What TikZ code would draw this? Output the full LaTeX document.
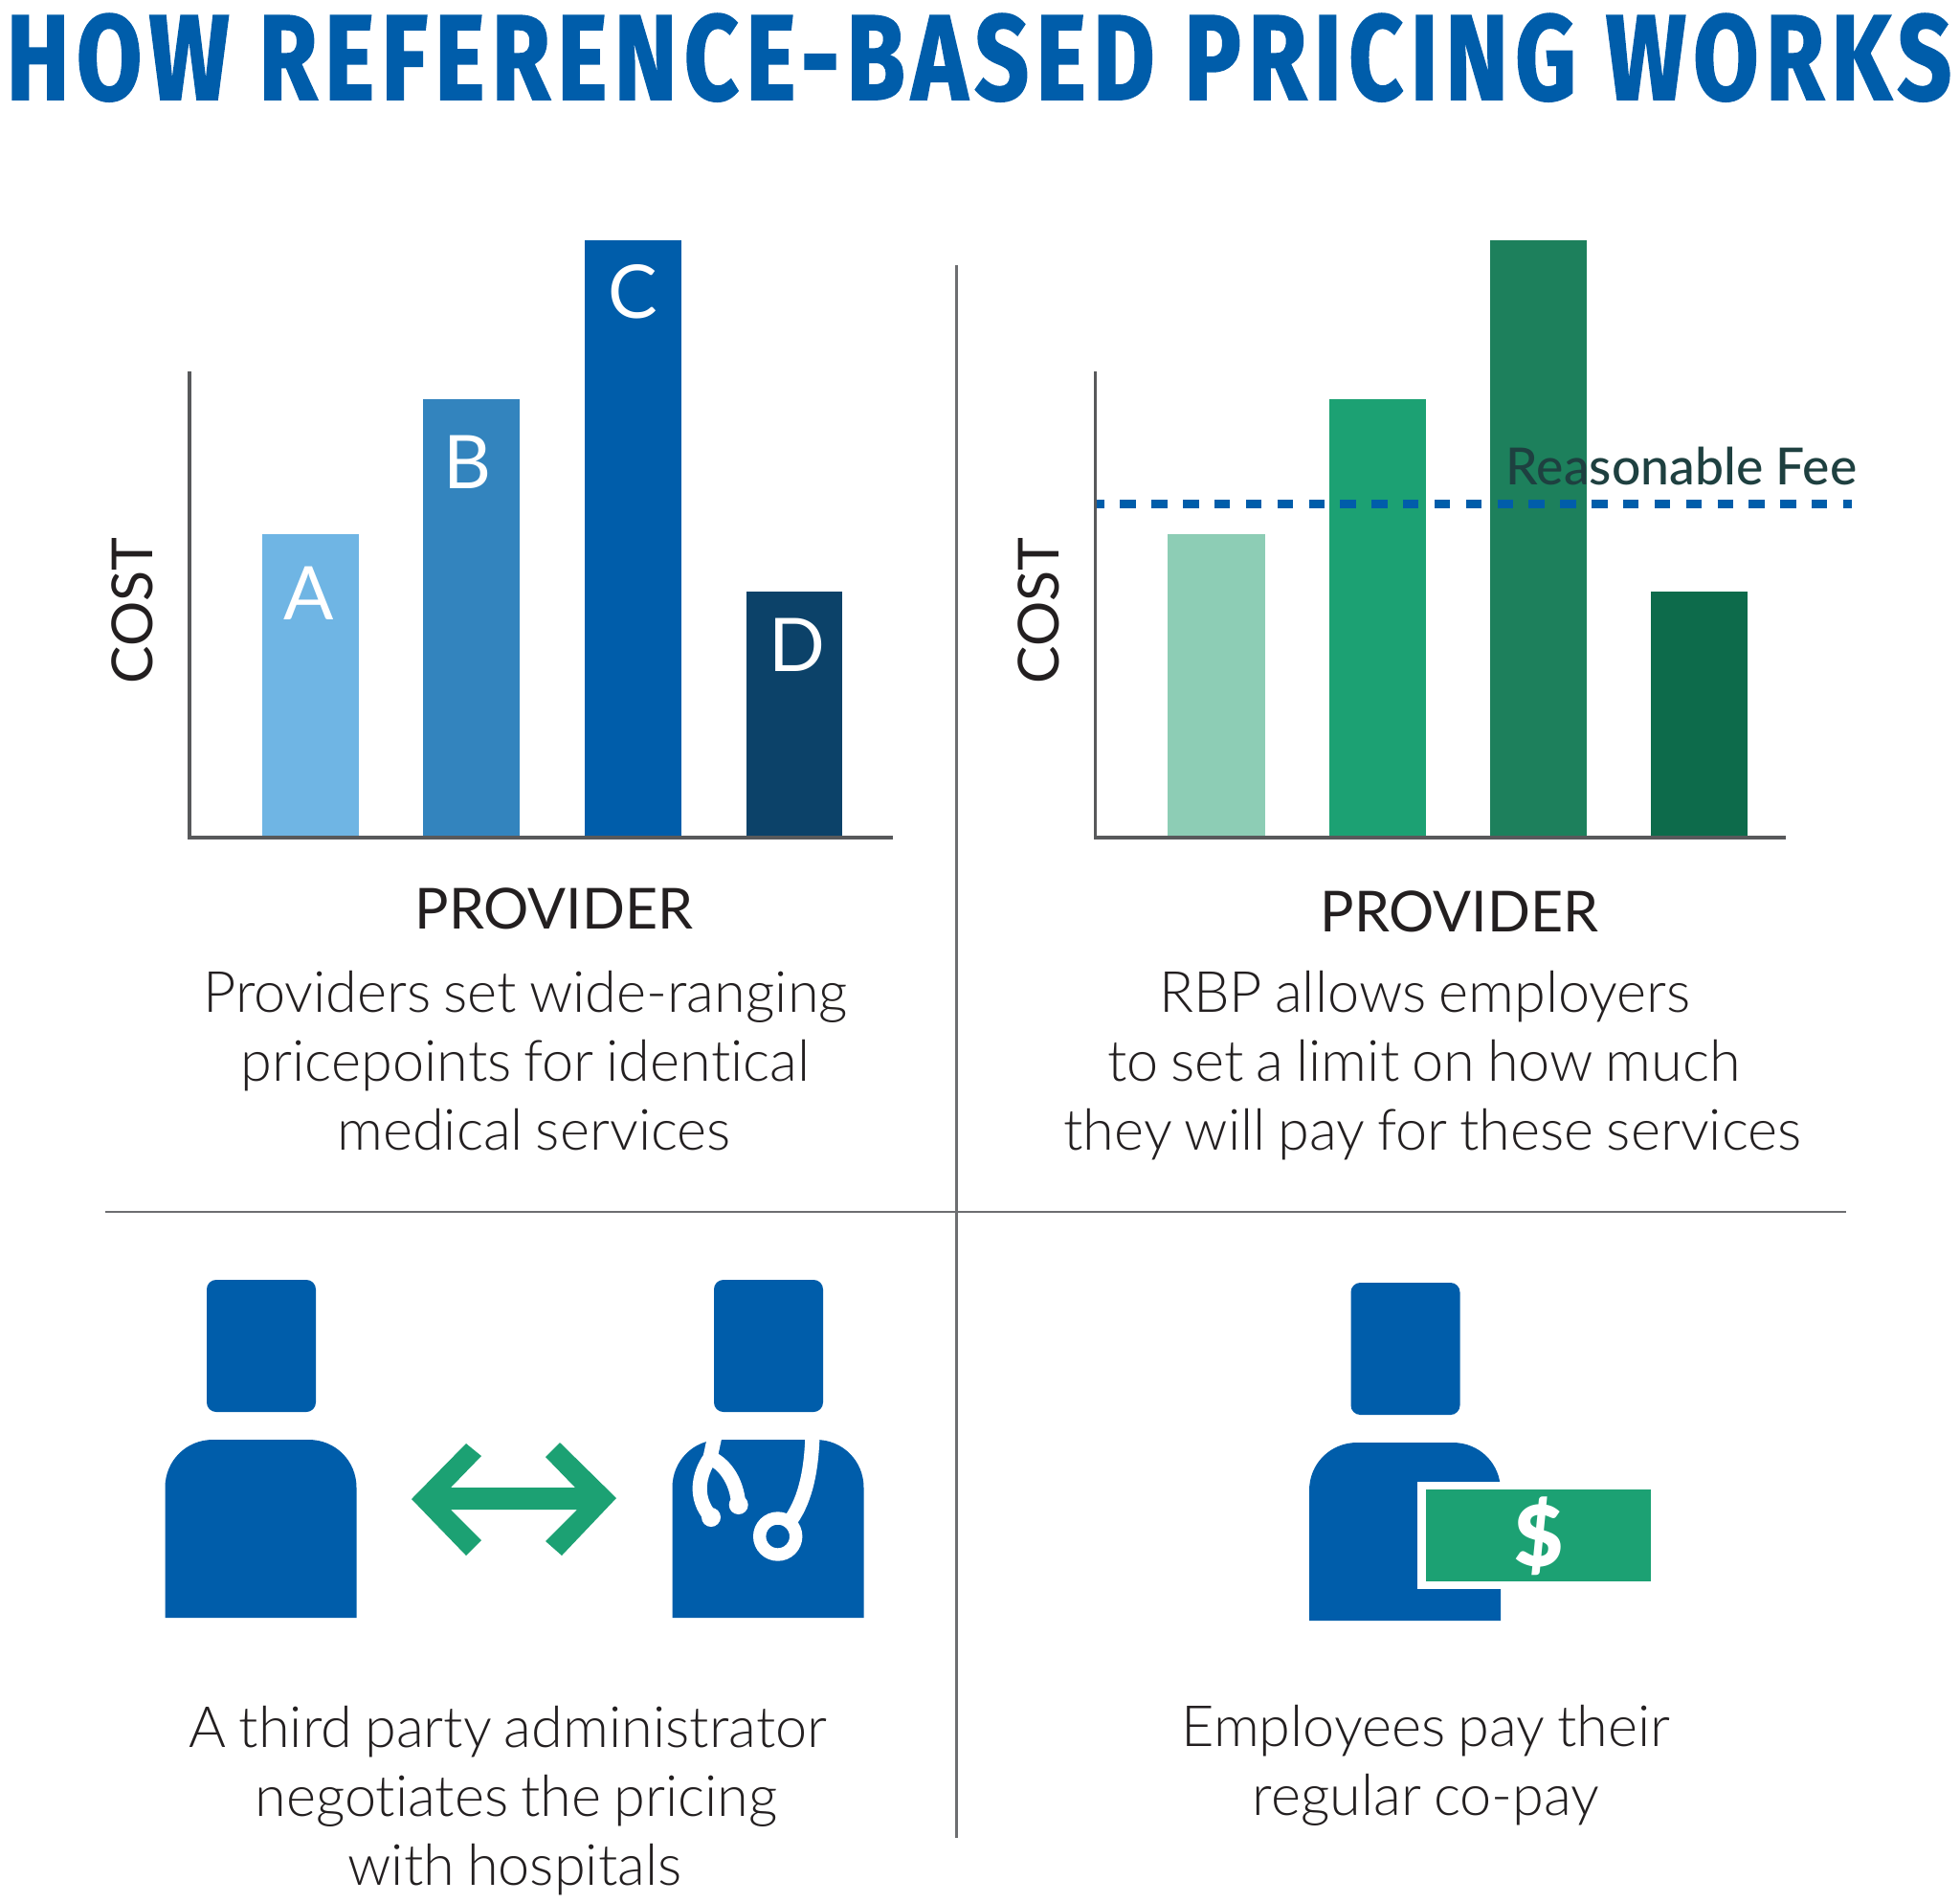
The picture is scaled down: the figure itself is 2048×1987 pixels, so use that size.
\documentclass[tikz,border=0pt]{standalone}
\usepackage{fontspec}
\setmainfont[Ligatures=NoCommon,WordSpace=0.8]{Lato Light}
\newfontfamily\titlefont[FakeStretch=0.78,LetterSpace=6,FakeBold=1.4]{Fira Sans Bold}
\newfontfamily\labelfont[Ligatures=NoCommon]{Lato}
\newfontfamily\feefont[Ligatures=NoCommon]{Lato Medium}
\newfontfamily\dollarfont{Lato Black}
\definecolor{rbpblue}{HTML}{005DAA}
\definecolor{rbpgreen}{HTML}{1CA173}
\definecolor{axisgray}{HTML}{58595B}
\definecolor{linegray}{HTML}{6D6E71}
\definecolor{inkdark}{HTML}{231F20}
\definecolor{feeink}{HTML}{1E4040}
\definecolor{barA}{HTML}{6FB5E4}
\definecolor{barB}{HTML}{3384BE}
\definecolor{barD}{HTML}{0C4269}
\definecolor{barE}{HTML}{8DCDB5}
\definecolor{barG}{HTML}{1D805C}
\definecolor{barH}{HTML}{0D6B4B}
\tikzset{
  axisline/.style={draw=axisgray, line width=1pt},
  divider/.style={draw=linegray, line width=0.6pt},
  bodytext/.style={anchor=base, inner sep=0pt, text=inkdark, font=\fontsize{16.9}{20}\selectfont},
  axistext/.style={bodytext, font=\labelfont\fontsize{16.8}{20}\selectfont},
  barletter/.style={anchor=center, inner sep=0pt, text=white, font=\labelfont\fontsize{22}{24}\selectfont},
}
\begin{document}
\begin{tikzpicture}[x=0.01cm, y=-0.01cm]

        \useasboundingbox (0,0) rectangle (2048,1987);

        % Title
        \node[anchor=base, inner sep=0pt, text=rbpblue, font=\titlefont\fontsize{36}{40}\selectfont] (title) at (1023,104) {HOW REFERENCE-BASED PRICING WORKS};

        % Dividers
        \draw[divider] (999.5,277) -- (999.5,1920);
        \draw[divider] (110,1266) -- (1929,1266);

        % Left chart: bars
        \fill[barA] (274,558) rectangle (375,875);
        \fill[barB] (442,417) rectangle (543,875);
        \fill[rbpblue] (611,251) rectangle (712,875);
        \fill[barD] (779.5,618) rectangle (880,875);
        \node[barletter] (letterA) at (322.5,620) {A};
        \node[barletter] (letterB) at (489,483) {B};
        \node[barletter] (letterC) at (661,305) {C};
        \node[barletter] (letterD) at (833,674) {D};

        % Left chart: axes
        \draw[axisline] (198,388) -- (198,875) -- (933,875);
        \node[axistext, rotate=90] (costL) at (159.5,638) {COST};
        \node[axistext] (providerL) at (579,970) {PROVIDER};

        % Right chart: bars
        \fill[barE] (1220,558) rectangle (1322,875);
        \fill[rbpgreen] (1388.5,417) rectangle (1489.5,875);
        \fill[barG] (1557,251) rectangle (1658,875);
        \fill[barH] (1725,618) rectangle (1826,875);

        % Reasonable fee
        \draw[rbpblue, line width=2.3pt, dash pattern=on 4.67pt off 4.67pt, dash phase=2.39pt] (1146,526.5) -- (1935,526.5);

        % Right chart: axes
        \draw[axisline] (1144.5,388) -- (1144.5,875) -- (1866,875);
        \node[axistext, rotate=90] (costR) at (1106,638) {COST};
        \node[axistext] (providerR) at (1525,973) {PROVIDER};
        \node[anchor=base, inner sep=0pt, text=feeink, font=\feefont\fontsize{15.2}{18}\selectfont] (fee) at (1757,506.5) {Reasonable Fee};

        % Captions of the charts
        \node[bodytext] (capA) at (549,1057) {Providers set wide-ranging};
        \node[bodytext] (capB) at (549,1129) {pricepoints for identical};
        \node[bodytext] (capC) at (558,1201) {medical services};
        \node[bodytext] (capD) at (1489,1057) {RBP allows employers};
        \node[bodytext] (capE) at (1488,1129) {to set a limit on how much};
        \node[bodytext] (capF) at (1497,1201) {they will pay for these services};

        % People
        \foreach \bx/\by in {172.5/1504, 702.5/1504, 1368/1507} {
          \fill[rbpblue, shift={(\bx,\by)}] (0,186) -- (0,50) .. controls (0,22) and (22,0) .. (50,0) -- (150,0) .. controls (178,0) and (200,22) .. (200,50) -- (200,186) -- cycle;
          \fill[rbpblue, rounded corners=2.8pt, shift={(\bx,\by)}] (43.5,-167) rectangle (157.5,-29);
        }

        % Stethoscope
        \draw[white, line width=4.3pt] (849,1498) .. controls (848,1535) and (842,1565) .. (827,1587);
        \draw[white, line width=3.8pt] (812.7,1605) circle [radius=19];
        \draw[white, line width=4.3pt] (748,1495) -- (742,1523) .. controls (730,1540) and (725,1565) .. (743,1585);
        \draw[white, line width=4.3pt] (742,1523) .. controls (755,1528) and (770,1545) .. (771.7,1572);
        \fill[white] (743,1585) circle [radius=10];
        \fill[white] (771.7,1572) circle [radius=10];

        % Double arrow
        \fill[rbpgreen] (430,1566) -- (487,1508) -- (503,1521) -- (471,1554) -- (601,1554) -- (570,1522) -- (585,1507) -- (644,1565) -- (587,1625) -- (570,1610) -- (603,1577) -- (471,1577) -- (503,1609) -- (487,1625) -- cycle;

        % Bill
        \fill[white] (1481,1548) rectangle (1730,1660);
        \fill[rbpgreen] (1490,1556) rectangle (1725,1652);
        \node[anchor=center, inner sep=0pt, text=white, font=\dollarfont\fontsize{25}{28}\selectfont] (dollar) at (1608,1605) {\$};

        % Captions of the people
        \node[bodytext] (capG) at (531,1825) {A third party administrator};
        \node[bodytext] (capH) at (539.5,1897) {negotiates the pricing};
        \node[bodytext] (capI) at (538,1969) {with hospitals};
        \node[bodytext] (capJ) at (1490,1824) {Employees pay their};
        \node[bodytext] (capK) at (1490,1896) {regular co-pay};
    \end{tikzpicture}
\end{document}
